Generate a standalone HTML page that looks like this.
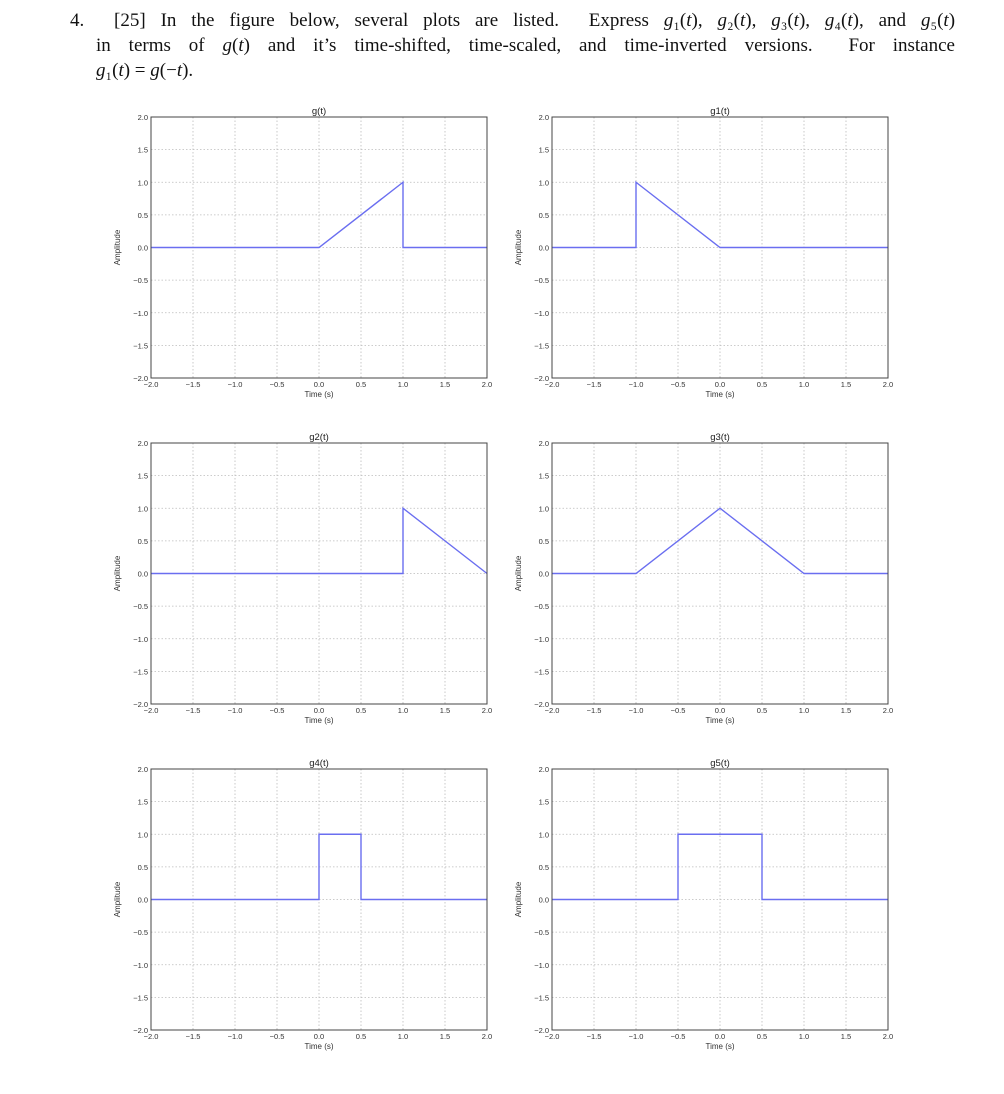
<!DOCTYPE html>
<html><head><meta charset="utf-8"><style>
body{margin:0;background:#fff;width:1004px;height:1094px;overflow:hidden;position:relative}
.q{position:absolute;font-family:"Liberation Serif",serif;font-size:19px;color:#111;line-height:25px}
svg{position:absolute;left:0;top:0}
</style></head><body>
<div class="q" style="left:70px;top:8px;width:885px;">
<div style="text-align:justify;text-align-last:justify;width:885px">4.&nbsp; [25] In the figure below, several plots are listed. &nbsp;Express <i>g</i>₁(<i>t</i>), <i>g</i>₂(<i>t</i>), <i>g</i>₃(<i>t</i>), <i>g</i>₄(<i>t</i>), and <i>g</i>₅(<i>t</i>)</div>
<div style="margin-left:26px;width:859px;text-align:justify;text-align-last:justify">in terms of <i>g</i>(<i>t</i>) and it’s time-shifted, time-scaled, and time-inverted versions. &nbsp;For instance</div>
<div style="margin-left:26px"><i>g</i>₁(<i>t</i>) = <i>g</i>(−<i>t</i>).</div>
</div>
<svg id="fig" width="1004" height="1094" font-family="Liberation Sans, sans-serif"></svg>
<script>
const titles=["g(t)","g1(t)","g2(t)","g3(t)","g4(t)","g5(t)"];
const tG=[-2,0,1,1,2], yG=[0,0,1,0,0];
const tG1=[-2,-1,-1,0,2], yG1=[0,0,1,0,0];
const tG2=[-2,1,1,2], yG2=[0,0,1,0];
const tG3=[-2,-1,0,1,2], yG3=[0,0,1,0,0];
const tG4=[-2,0,0,0.5,0.5,2], yG4=[0,0,1,1,0,0];
const tG5=[-2,-0.5,-0.5,0.5,0.5,2], yG5=[0,0,1,1,0,0];
const ticks=[-2,-1.5,-1,-0.5,0,0.5,1,1.5,2];
const tickLabels=["−2.0","−1.5","−1.0","−0.5","0.0","0.5","1.0","1.5","2.0"];
const series=[[tG,yG],[tG1,yG1],[tG2,yG2],[tG3,yG3],[tG4,yG4],[tG5,yG5]];
const svg=document.getElementById('fig');const NS="http://www.w3.org/2000/svg";
function mk(tag,attrs,parent){const e=document.createElementNS(NS,tag);for(const k in attrs)e.setAttribute(k,attrs[k]);(parent||svg).appendChild(e);return e;}
series.forEach((s,i)=>{
 const L=i%2?552:151,T=117+Math.floor(i/2)*326,W=336,H=261;
 const xs=v=>L+(v+2)/4*W, ys=v=>T+(2-v)/4*H;
 const g=mk('g',{});
 
 
 ticks.forEach((v,k)=>{
  if(k>0&&k<8){
   const gx=mk('line',{x1:xs(v),x2:xs(v),y1:T,y2:T+H,stroke:'#bbb','stroke-width':0.8,'stroke-dasharray':'1.5,2'},g);
   
   const gy=mk('line',{x1:L,x2:L+W,y1:ys(v),y2:ys(v),stroke:'#bbb','stroke-width':0.8,'stroke-dasharray':'1.5,2'},g);
   
  }
  const tx=mk('text',{x:xs(v),y:T+H+9,'font-size':7.5,'text-anchor':'middle',fill:'#333'},g);tx.textContent=tickLabels[k];
  
  const ty=mk('text',{x:L-3,y:ys(v)+3,'font-size':7.5,'text-anchor':'end',fill:'#333'},g);ty.textContent=tickLabels[k];
  
 });
 const pts=s[0].map((t,k)=>xs(t)+','+ys(s[1][k])).join(' ');
 const pl=mk('polyline',{points:pts,fill:'none',stroke:'#6a6ef0','stroke-width':1.4},g);
 
 const fr=mk('rect',{x:L,y:T,width:W,height:H,fill:'none',stroke:'#444','stroke-width':1},g);
 
 const ti=mk('text',{x:L+W/2,y:T-3,'font-size':9.5,'text-anchor':'middle',fill:'#222'},g);ti.textContent=titles[i];
 
 const xl=mk('text',{x:L+W/2,y:T+H+19,'font-size':8,'text-anchor':'middle',fill:'#333'},g);xl.textContent='Time (s)';
 
 const yl=mk('text',{x:0,y:0,'font-size':8,'text-anchor':'middle',fill:'#333',transform:`translate(${L-31},${T+H/2}) rotate(-90)`},g);yl.textContent='Amplitude';
 
});
</script>
</body></html>
